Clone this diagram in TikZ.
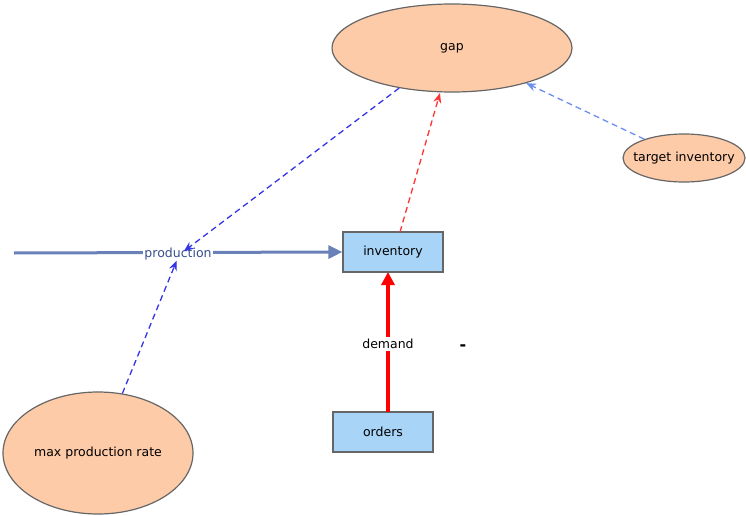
\documentclass[tikz,border=0pt]{standalone}
\usepackage{fontspec}
\setmainfont{DejaVu Sans}
\usepackage{tikz}
\usetikzlibrary{arrows.meta}
\usetikzlibrary{shapes.geometric}
\definecolor{peach}{HTML}{FDCBA8}
\definecolor{skyfill}{HTML}{A8D4F8}
\definecolor{edgegray}{HTML}{666666}
\definecolor{flowblue}{HTML}{6A80B9}
\definecolor{linkblue}{HTML}{3535E8}
\definecolor{paleblue}{HTML}{6A8FF0}
\definecolor{labelblue}{HTML}{3A4F8A}
\newcommand{\nowidth}[1]{\makebox[0pt]{#1}}
\tikzset{
  auxvar/.style={ellipse, draw=edgegray, fill=peach, line width=1.2pt, inner sep=0pt},
  stock/.style={rectangle, draw=edgegray, fill=skyfill, line width=1.2pt, minimum width=100pt, minimum height=40pt},
  link/.style={line width=1.3pt, dash pattern=on 6pt off 4pt, -{Stealth[length=10pt,width=8pt]}}
}
\begin{document}
\begin{tikzpicture}[x=1pt,y=-1pt,font=\fontsize{12.5}{14}\selectfont]
\useasboundingbox (0,0) rectangle (746,516);
% draws variables
\node[auxvar, minimum width=240pt, minimum height=88pt] (gap) at (452,48) {\nowidth{gap}};
\node[auxvar, minimum width=122pt, minimum height=48pt] (target) at (684,158) {\nowidth{target inventory}};
\node[auxvar, minimum width=190pt, minimum height=122pt] (maxrate) at (98,453) {\nowidth{max production rate}};
\node[stock] (inventory) at (393,252) {inventory};
\node[stock] (orders) at (383,432) {orders};
% end points
\coordinate (source) at (14,253);
\coordinate (valve) at (179,255);
\coordinate (invtop) at (400,232);
\coordinate (gapfoot) at (440,93);
\coordinate (demtop) at (388,272);
\coordinate (dembase) at (388,412);
% flow into the stock
\draw[flowblue, line width=3pt, -{Triangle[length=14pt,width=13pt]}] (source) -- (inventory.west);
\node[fill=white, inner sep=1pt, text=labelblue] (production) at (178,254) {production};
% draws links
\draw[link, linkblue, shorten >=6pt] (gap) -- (valve);
\draw[link, linkblue, shorten >=6pt] (maxrate) -- (valve);
\draw[link, red!80] (invtop) -- (gapfoot);
\draw[link, paleblue] (target) -- (gap);
% demand
\draw[red, line width=4pt, -{Triangle[length=13pt,width=13pt]}] (dembase) -- (demtop);
\node[fill=white, inner sep=2pt] (demand) at (388,344) {demand};
\node[font=\bfseries\fontsize{16}{18}\selectfont] (sign) at (463,348) {-};
\end{tikzpicture}
\end{document}
